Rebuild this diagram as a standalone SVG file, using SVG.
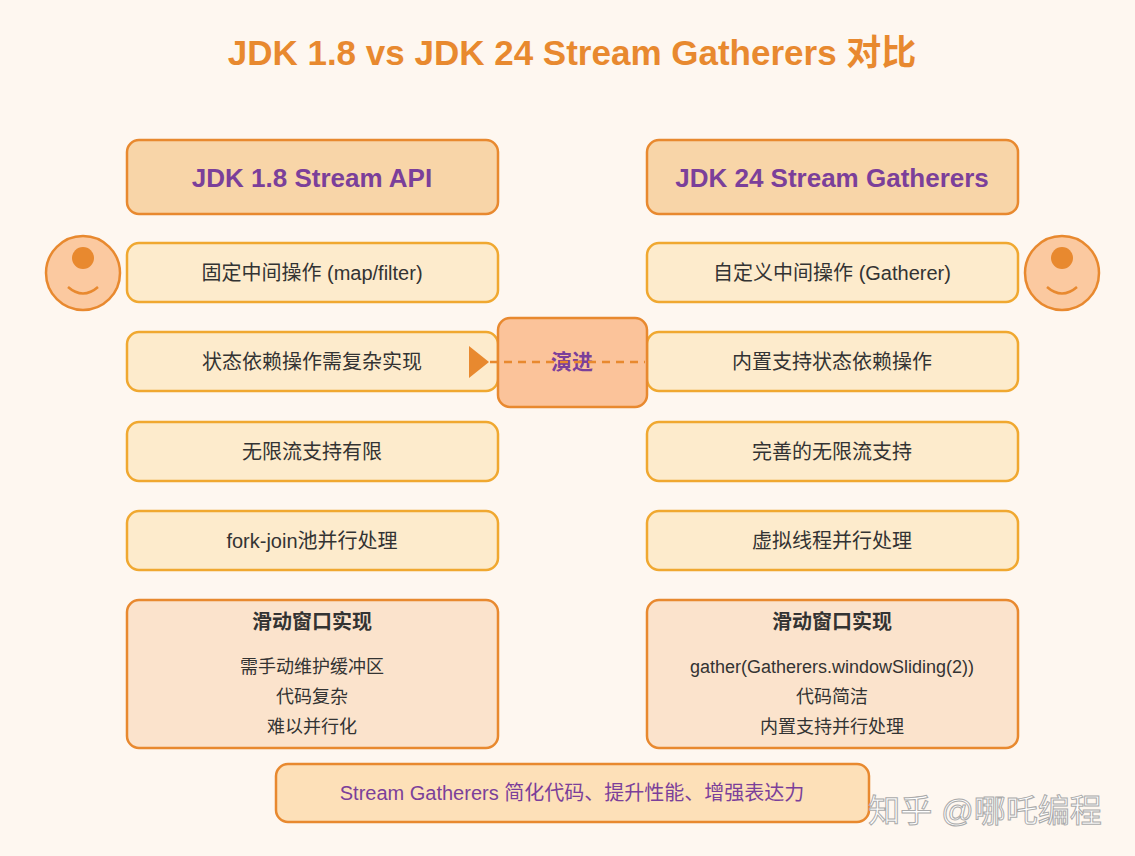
<svg xmlns="http://www.w3.org/2000/svg" width="1135" height="856" viewBox="0 0 1135 856">
<style>
.t{font-family:"Liberation Sans","Noto Sans CJK SC",sans-serif}
.hd{fill:#f8d5a8;stroke:#e8892f;stroke-width:2.5}
.it{fill:#fdebcc;stroke:#f0a830;stroke-width:2.5}
.bx{fill:#fbe3cc;stroke:#e8892f;stroke-width:2.5}
.h{font-size:26px;font-weight:bold;fill:#7b3f9a;text-anchor:middle}
.n{font-size:20px;fill:#333;text-anchor:middle}
.b{font-size:20px;font-weight:bold;fill:#333;text-anchor:middle}
.s{font-size:18px;fill:#333;text-anchor:middle}
.face{fill:#fbc9a0;stroke:#e8892f;stroke-width:2.5}
</style>
<rect width="1135" height="856" fill="#fef7f0"/>
<text class="t" x="572" y="65" font-size="35" font-weight="bold" fill="#e8892f" text-anchor="middle">JDK 1.8 vs JDK 24 Stream Gatherers 对比</text>
<g id="left-header"><rect class="hd" x="127" y="140" width="371" height="74" rx="12"/><text class="t h" x="312" y="187">JDK 1.8 Stream API</text></g>
<g id="right-header"><rect class="hd" x="647" y="140" width="371" height="74" rx="12"/><text class="t h" x="832" y="187">JDK 24 Stream Gatherers</text></g>
<g id="l1"><rect class="it" x="127" y="243" width="371" height="59" rx="12"/><text class="t n" x="312" y="280">固定中间操作 (map/filter)</text></g>
<g id="l2"><rect class="it" x="127" y="332" width="371" height="59" rx="12"/><text class="t n" x="312" y="369">状态依赖操作需复杂实现</text></g>
<g id="l3"><rect class="it" x="127" y="422" width="371" height="59" rx="12"/><text class="t n" x="312" y="459">无限流支持有限</text></g>
<g id="l4"><rect class="it" x="127" y="511" width="371" height="59" rx="12"/><text class="t n" x="312" y="548">fork-join池并行处理</text></g>
<g id="r1"><rect class="it" x="647" y="243" width="371" height="59" rx="12"/><text class="t n" x="832" y="280">自定义中间操作 (Gatherer)</text></g>
<g id="r2"><rect class="it" x="647" y="332" width="371" height="59" rx="12"/><text class="t n" x="832" y="369">内置支持状态依赖操作</text></g>
<g id="r3"><rect class="it" x="647" y="422" width="371" height="59" rx="12"/><text class="t n" x="832" y="459">完善的无限流支持</text></g>
<g id="r4"><rect class="it" x="647" y="511" width="371" height="59" rx="12"/><text class="t n" x="832" y="548">虚拟线程并行处理</text></g>
<g id="center"><rect x="498" y="318" width="149" height="89" rx="12" fill="#fbc39a" stroke="#e8892f" stroke-width="2.5"/><text class="t" x="572" y="369" font-size="21" font-weight="bold" fill="#7b3f9a" text-anchor="middle">演进</text></g>
<g id="connectors">
<line x1="490" y1="362" x2="645" y2="362" stroke="#e8892f" stroke-width="2.5" stroke-dasharray="8,6"/>
<polygon points="469,346 489,362 469,378" fill="#e8892f"/>
</g>
<g id="l5"><rect class="bx" x="127" y="600" width="371" height="148" rx="12"/>
<text class="t b" x="312" y="629">滑动窗口实现</text>
<text class="t s" x="312" y="673">需手动维护缓冲区</text>
<text class="t s" x="312" y="703">代码复杂</text>
<text class="t s" x="312" y="733">难以并行化</text></g>
<g id="r5"><rect class="bx" x="647" y="600" width="371" height="148" rx="12"/>
<text class="t b" x="832" y="629">滑动窗口实现</text>
<text class="t s" x="832" y="673">gather(Gatherers.windowSliding(2))</text>
<text class="t s" x="832" y="703">代码简洁</text>
<text class="t s" x="832" y="733">内置支持并行处理</text></g>
<g id="summary"><rect x="276" y="764" width="593" height="58" rx="12" fill="#fde0b8" stroke="#e8892f" stroke-width="2.5"/><text class="t" x="572" y="800" font-size="20" fill="#7b3f9a" text-anchor="middle">Stream Gatherers 简化代码、提升性能、增强表达力</text></g>
<g id="face-left"><circle class="face" cx="83" cy="273" r="37"/><circle cx="83" cy="258" r="11" fill="#e8892f"/><path d="M68,287 Q83,300 98,287" fill="none" stroke="#e8892f" stroke-width="2.5"/></g>
<g id="face-right"><circle class="face" cx="1062" cy="273" r="37"/><circle cx="1062" cy="258" r="11" fill="#e8892f"/><path d="M1047,287 Q1062,300 1077,287" fill="none" stroke="#e8892f" stroke-width="2.5"/></g>
<text class="t" x="985" y="822" font-size="32" fill="#fff" stroke="#aaa" stroke-width="1" text-anchor="middle">知乎 @哪吒编程</text>
</svg>
